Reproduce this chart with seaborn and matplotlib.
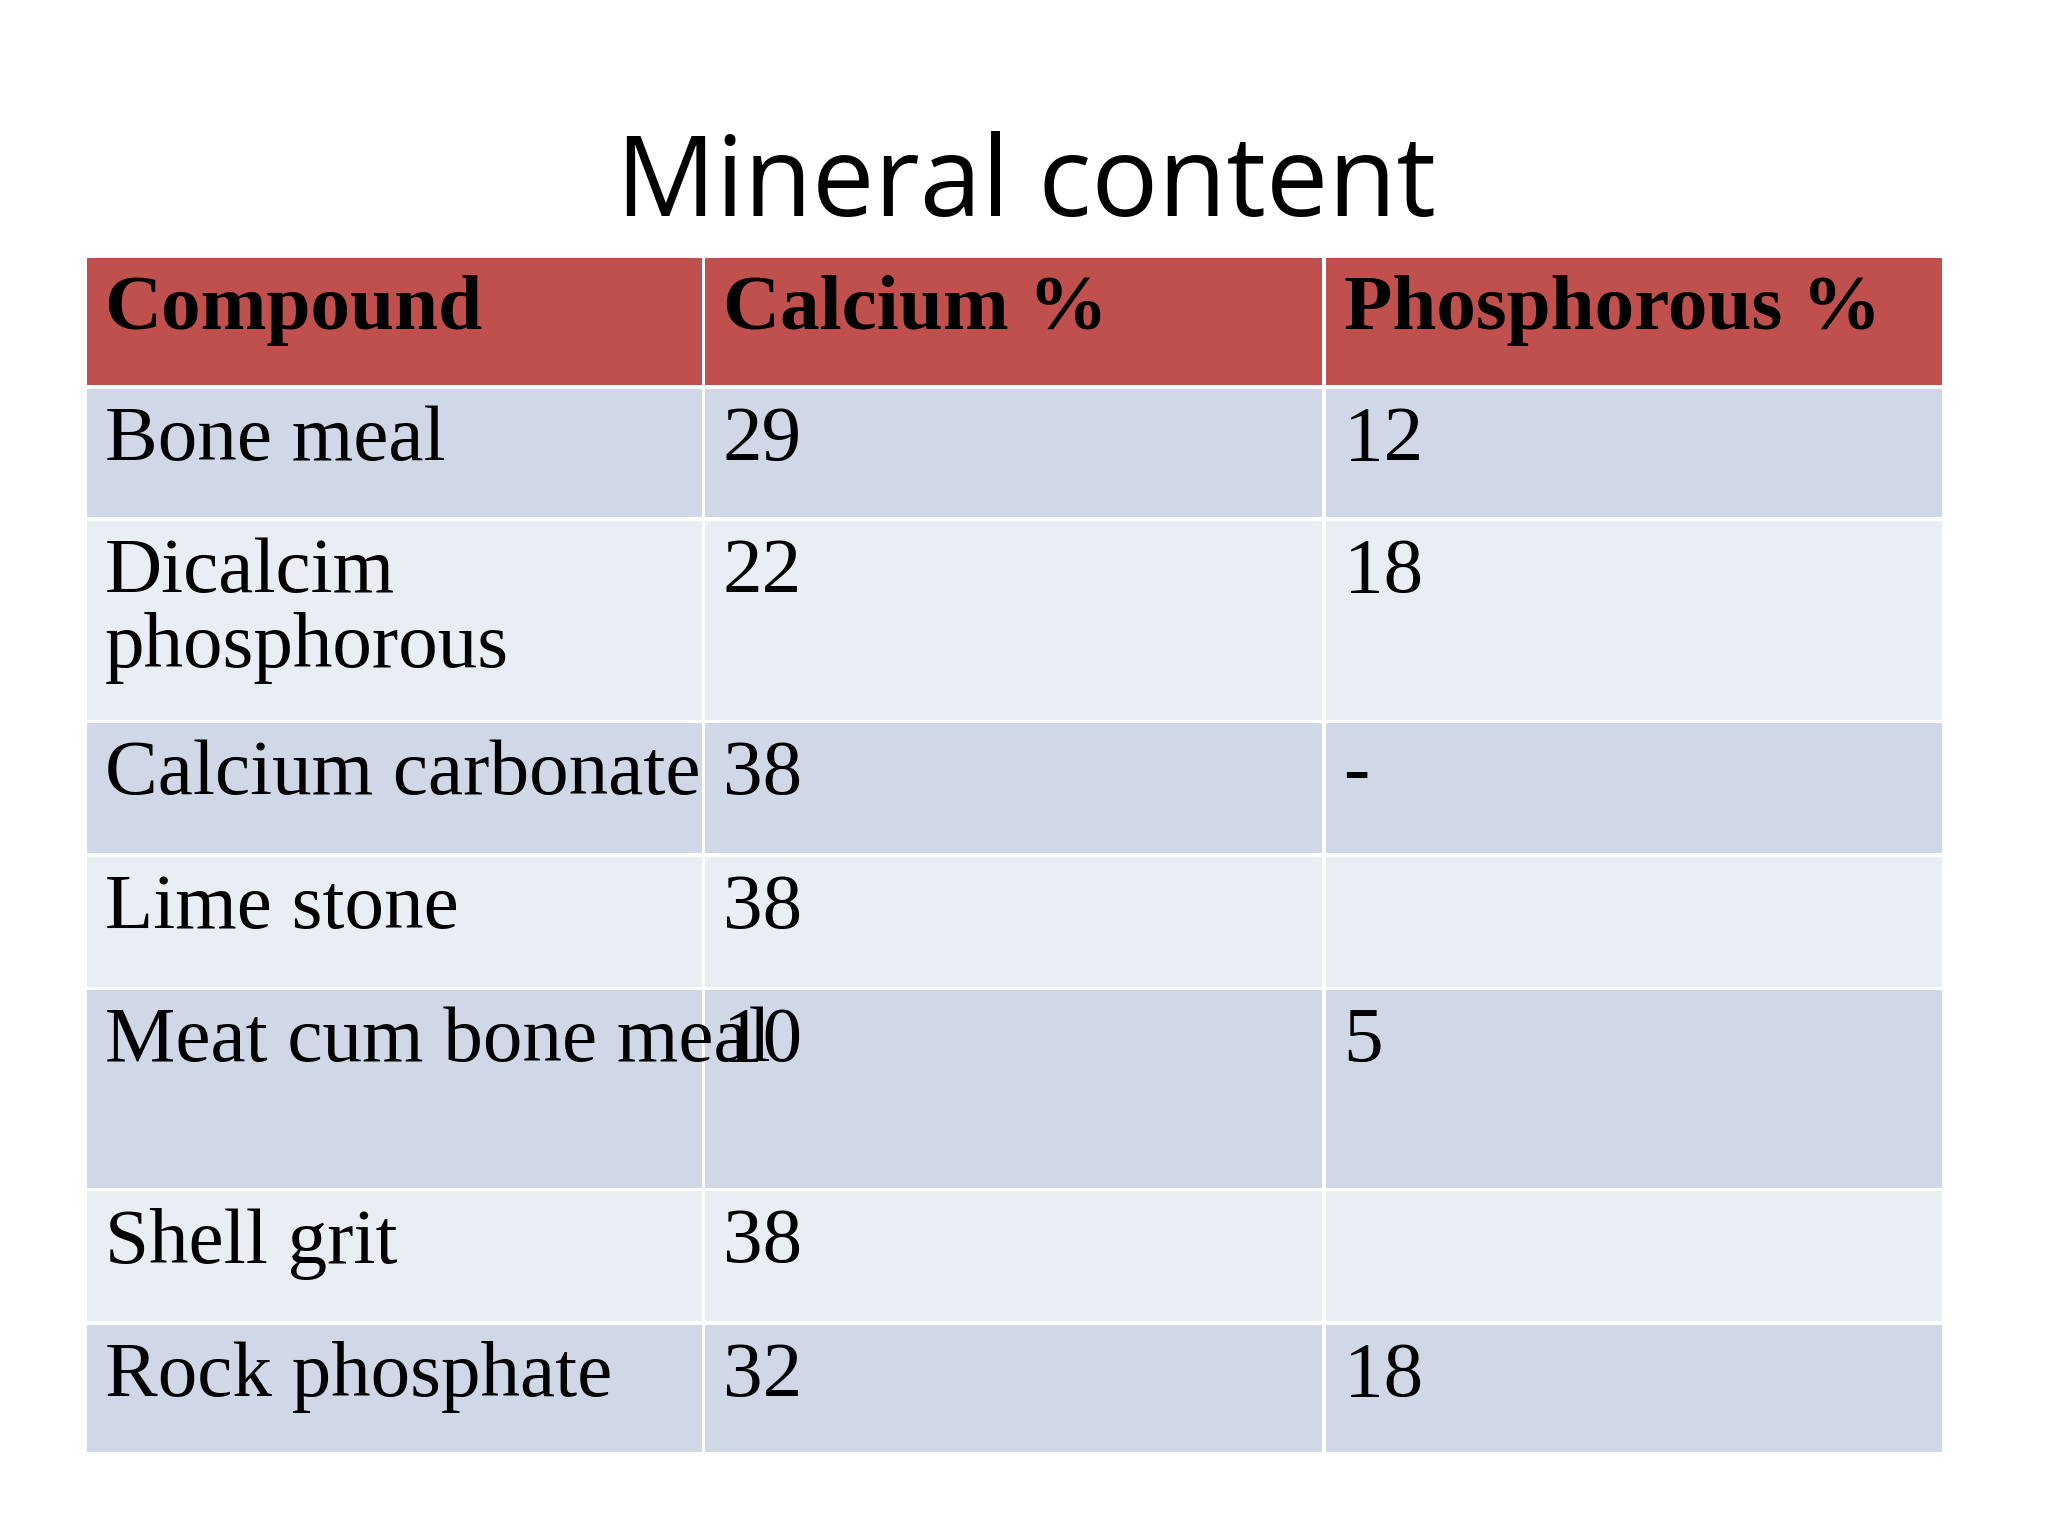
import matplotlib
matplotlib.use("Agg")
import matplotlib.pyplot as plt
import seaborn as sns
from matplotlib.patches import Rectangle

sns.set_theme(style="white")

title = "Mineral content"
headers = ["Compound", "Calcium %", "Phosphorous %"]
compounds = ["Bone meal", "Dicalcim\nphosphorous", "Calcium carbonate", "Lime stone",
             "Meat cum bone meal", "Shell grit", "Rock phosphate"]
calcium = ["29", "22", "38", "38", "10", "38", "32"]
phosphorous = ["12", "18", "-", "", "5", "", "18"]

W, H = 1567, 1175
fig = plt.figure(figsize=(20.48, 15.36), dpi=100)
ax = fig.add_axes([0, 0, 1, 1])
ax.set_xlim(0, W)
ax.set_ylim(H, 0)
ax.axis("off")

cols = [65, 538, 1013, 1487]
row_edges = [196, 296, 397, 552, 654, 756, 910, 1012, 1112]
gap = 2.5

ax.text(785, 143, title, ha="center", va="center", fontsize=80,
        family=["Open Sans", "DejaVu Sans"], color="black")

rows = [headers] + [[c, ca, p] for c, ca, p in zip(compounds, calcium, phosphorous)]
for r, vals in enumerate(rows):
    y0, y1 = row_edges[r], row_edges[r + 1]
    if r == 0:
        color = "#C0504D"
    elif r % 2 == 1:
        color = "#D0D8E8"
    else:
        color = "#E9EDF4"
    for c in range(3):
        x0, x1 = cols[c], cols[c + 1]
        ax.add_patch(Rectangle((x0 + gap / 2, y0 + gap / 2), x1 - x0 - gap, y1 - y0 - gap,
                               facecolor=color, edgecolor="none"))
        ax.text(x0 + 15, y0 + 14, vals[c], ha="left", va="top",
                fontsize=57, family=["Liberation Serif", "DejaVu Serif"],
                fontweight="bold" if r == 0 else "normal", color="black",
                linespacing=1.05)

fig.savefig("out.png", dpi=100, facecolor="white")
